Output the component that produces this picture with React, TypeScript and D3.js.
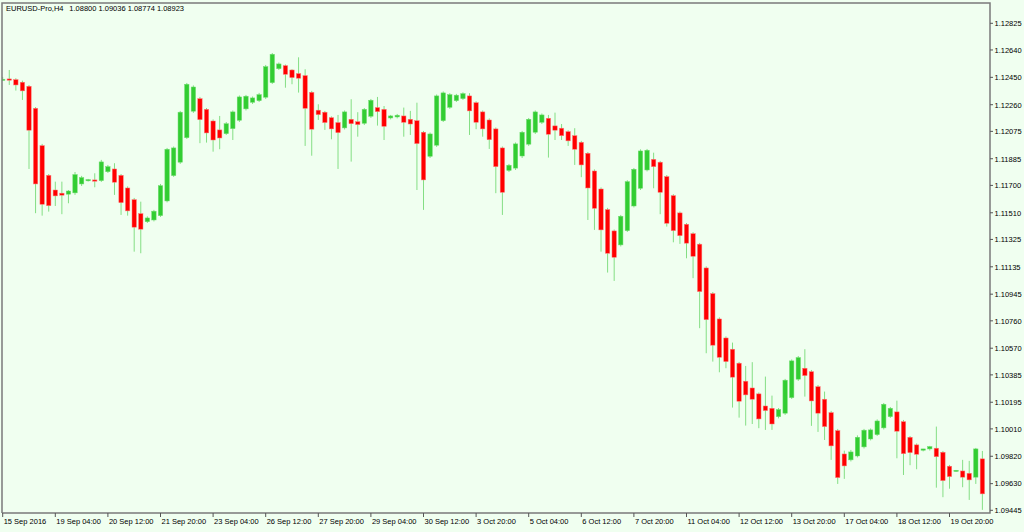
import React from "react";
import * as d3 from "d3";

const titleSymbol = "EURUSD-Pro,H4";
const titleQuote = "1.08800 1.09036 1.08774 1.08923";

const opens = [1.12437, 1.12439, 1.12434, 1.12416, 1.12388, 1.12235, 1.11976, 1.11770, 1.11668, 1.11646,
  1.11639, 1.11648, 1.11710, 1.11736, 1.11738, 1.11733, 1.11795, 1.11814, 1.11770, 1.11682,
  1.11601, 1.11504, 1.11448, 1.11460, 1.11490, 1.11592, 1.11768, 1.11861, 1.12031, 1.12215,
  1.12302, 1.12228, 1.12147, 1.12085, 1.12059, 1.12094, 1.12152, 1.12231, 1.12277, 1.12288,
  1.12312, 1.12413, 1.12510, 1.12531, 1.12501, 1.12476, 1.12462, 1.12346, 1.12222, 1.12208,
  1.12170, 1.12136, 1.12099, 1.12159, 1.12142, 1.12131, 1.12180, 1.12240, 1.12228, 1.12168,
  1.12175, 1.12182, 1.12159, 1.12149, 1.12069, 1.11902, 1.11979, 1.12149, 1.12242, 1.12288,
  1.12302, 1.12321, 1.12274, 1.12210, 1.12154, 1.12092, 1.11960, 1.11804, 1.11820, 1.11904,
  1.11986, 1.12069, 1.12138, 1.12166, 1.12113, 1.12097, 1.12073, 1.12045, 1.11999, 1.11923,
  1.11800, 1.11675, 1.11532, 1.11384, 1.11287, 1.11386, 1.11557, 1.11680, 1.11807, 1.11881,
  1.11861, 1.11761, 1.11629, 1.11509, 1.11430, 1.11365, 1.11292, 1.11127, 1.10949, 1.10773,
  1.10641, 1.10563, 1.10466, 1.10341, 1.10294, 1.10253, 1.10169, 1.10153, 1.10095, 1.10119,
  1.10227, 1.10355, 1.10431, 1.10407, 1.10303, 1.10216, 1.10123, 1.09998, 1.09836, 1.09795,
  1.09822, 1.09885, 1.09940, 1.09970, 1.10017, 1.10095, 1.10128, 1.10060, 1.09952, 1.09899,
  1.09862, 1.09871, 1.09876, 1.09848, 1.09751, 1.09718, 1.09718, 1.09702, 1.09675, 1.09802];

const highs = [1.12453, 1.12501, 1.12444, 1.12427, 1.12397, 1.12244, 1.11988, 1.11779, 1.11726, 1.11726,
  1.11668, 1.11793, 1.11766, 1.11745, 1.11784, 1.11877, 1.11842, 1.11854, 1.11779, 1.11693,
  1.11613, 1.11587, 1.11485, 1.11530, 1.11710, 1.11960, 1.11970, 1.12217, 1.12411, 1.12394,
  1.12314, 1.12237, 1.12158, 1.12182, 1.12140, 1.12220, 1.12324, 1.12328, 1.12317, 1.12342,
  1.12536, 1.12619, 1.12553, 1.12539, 1.12506, 1.12589, 1.12506, 1.12356, 1.12263, 1.12217,
  1.12179, 1.12189, 1.12220, 1.12298, 1.12208, 1.12237, 1.12300, 1.12314, 1.12251, 1.12189,
  1.12196, 1.12240, 1.12217, 1.12274, 1.12078, 1.12067, 1.12331, 1.12352, 1.12340, 1.12335,
  1.12346, 1.12340, 1.12284, 1.12220, 1.12165, 1.12102, 1.11970, 1.11849, 1.11998, 1.12078,
  1.12168, 1.12220, 1.12199, 1.12189, 1.12205, 1.12126, 1.12083, 1.12097, 1.12009, 1.11932,
  1.11811, 1.11686, 1.11544, 1.11394, 1.11495, 1.11736, 1.11821, 1.11950, 1.11953, 1.11927,
  1.11870, 1.11772, 1.11639, 1.11519, 1.11439, 1.11375, 1.11301, 1.11138, 1.10960, 1.10784,
  1.10652, 1.10609, 1.10475, 1.10447, 1.10473, 1.10263, 1.10373, 1.10241, 1.10155, 1.10357,
  1.10492, 1.10516, 1.10563, 1.10419, 1.10315, 1.10269, 1.10135, 1.10010, 1.09859, 1.09864,
  1.09965, 1.10010, 1.10013, 1.10076, 1.10190, 1.10162, 1.10206, 1.10072, 1.09961, 1.09909,
  1.09871, 1.09892, 1.10026, 1.09857, 1.09760, 1.09725, 1.09795, 1.09788, 1.09878, 1.09857];

const lows = [1.12425, 1.12397, 1.12358, 1.12293, 1.11814, 1.11507, 1.11490, 1.11518, 1.11557, 1.11500,
  1.11576, 1.11634, 1.11696, 1.11727, 1.11687, 1.11724, 1.11786, 1.11634, 1.11495, 1.11490,
  1.11240, 1.11229, 1.11439, 1.11450, 1.11481, 1.11582, 1.11759, 1.11849, 1.12022, 1.12203,
  1.11993, 1.11997, 1.11934, 1.11951, 1.12050, 1.12015, 1.12140, 1.12220, 1.12265, 1.12279,
  1.12300, 1.12404, 1.12501, 1.12378, 1.12402, 1.12344, 1.11974, 1.11906, 1.12154, 1.12085,
  1.12020, 1.11814, 1.12088, 1.11865, 1.12038, 1.12119, 1.12168, 1.12115, 1.12015, 1.12158,
  1.12165, 1.12038, 1.12050, 1.11668, 1.11530, 1.11890, 1.11967, 1.12140, 1.12231, 1.12279,
  1.12293, 1.12050, 1.12090, 1.12038, 1.11953, 1.11646, 1.11495, 1.11793, 1.11807, 1.11890,
  1.11974, 1.12057, 1.12126, 1.11893, 1.12015, 1.12015, 1.11974, 1.11842, 1.11757, 1.11460,
  1.11391, 1.11240, 1.11095, 1.11037, 1.11276, 1.11377, 1.11547, 1.11668, 1.11797, 1.11680,
  1.11500, 1.11414, 1.11305, 1.11294, 1.11194, 1.11056, 1.10709, 1.10535, 1.10477, 1.10403,
  1.10431, 1.10158, 1.10088, 1.10033, 1.10044, 1.10015, 1.10003, 1.10003, 1.10083, 1.10107,
  1.10218, 1.10343, 1.10234, 1.10031, 1.09989, 1.09933, 1.09795, 1.09628, 1.09663, 1.09784,
  1.09812, 1.09874, 1.09930, 1.09961, 1.10006, 1.10086, 1.09806, 1.09690, 1.09758, 1.09730,
  1.09854, 1.09860, 1.09602, 1.09536, 1.09595, 1.09711, 1.09605, 1.09517, 1.09628, 1.09448];

const closes = [1.12437, 1.12430, 1.12397, 1.12356, 1.12083, 1.11710, 1.11569, 1.11559, 1.11627, 1.11632,
  1.11661, 1.11775, 1.11754, 1.11740, 1.11729, 1.11863, 1.11830, 1.11722, 1.11580, 1.11523,
  1.11410, 1.11396, 1.11474, 1.11521, 1.11698, 1.11951, 1.11960, 1.12208, 1.12402, 1.12383,
  1.12156, 1.12064, 1.12015, 1.12029, 1.12128, 1.12210, 1.12314, 1.12319, 1.12307, 1.12330,
  1.12524, 1.12610, 1.12543, 1.12471, 1.12448, 1.12444, 1.12235, 1.12090, 1.12191, 1.12136,
  1.12092, 1.12066, 1.12210, 1.12128, 1.12122, 1.12228, 1.12291, 1.12212, 1.12110, 1.12182,
  1.12187, 1.12138, 1.12126, 1.11990, 1.11738, 1.12057, 1.12321, 1.12342, 1.12330, 1.12326,
  1.12337, 1.12217, 1.12138, 1.12092, 1.12017, 1.11830, 1.11652, 1.11840, 1.11988, 1.12069,
  1.12159, 1.12210, 1.12189, 1.12055, 1.12083, 1.12045, 1.12009, 1.11951, 1.11842, 1.11682,
  1.11541, 1.11391, 1.11229, 1.11201, 1.11486, 1.11726, 1.11812, 1.11939, 1.11944, 1.11830,
  1.11652, 1.11437, 1.11386, 1.11351, 1.11299, 1.11208, 1.10963, 1.10768, 1.10591, 1.10507,
  1.10477, 1.10369, 1.10202, 1.10246, 1.10216, 1.10079, 1.10137, 1.10044, 1.10144, 1.10348,
  1.10482, 1.10505, 1.10380, 1.10204, 1.10119, 1.10026, 1.09892, 1.09672, 1.09753, 1.09850,
  1.09952, 1.10001, 1.10003, 1.10065, 1.10181, 1.10153, 1.09994, 1.09838, 1.09845, 1.09834,
  1.09871, 1.09887, 1.09817, 1.09651, 1.09679, 1.09723, 1.09675, 1.09656, 1.09871, 1.09559];

const timeLabels = ["15 Sep 2016", "19 Sep 04:00", "20 Sep 12:00", "21 Sep 20:00", "23 Sep 04:00",
  "26 Sep 12:00", "27 Sep 20:00", "29 Sep 04:00", "30 Sep 12:00", "3 Oct 20:00", "5 Oct 04:00",
  "6 Oct 12:00", "7 Oct 20:00", "11 Oct 04:00", "12 Oct 12:00", "13 Oct 20:00", "17 Oct 04:00",
  "18 Oct 12:00", "19 Oct 20:00"];
const barsPerLabel = 8;

const priceTicks = [1.12825, 1.12640, 1.12450, 1.12260, 1.12075, 1.11885, 1.11700, 1.11510, 1.11325,
  1.11135, 1.10945, 1.10760, 1.10570, 1.10385, 1.10195, 1.10010, 1.09820, 1.09630, 1.09445];

const W = 1024, H = 532;
const frame = { left: 2, top: 3, right: 990, bottom: 513 };
const BG = "#F0FFF0";
const UP = "#32CD32";
const DOWN = "#FF0000";
const WICK = "#84de84";
const FONT = "'Liberation Sans', Arial, sans-serif";

export default function App() {
  const n = opens.length;
  const x = d3.scaleLinear().domain([0, n - 1]).range([2.7, 2.7 + 6.575 * (n - 1)]);
  const y = d3.scaleLinear().domain([1.09445, 1.12825]).range([510.3, 23.3]);
  const bodyW = 4.4;

  const candles = d3.range(n).map((i) => {
    const o = opens[i], c = closes[i], h = highs[i], l = lows[i];
    const up = c >= o;
    const cx = x(i);
    const top = y(Math.max(o, c));
    const bot = y(Math.min(o, c));
    const bh = Math.max(bot - top, 1.2);
    return (
      <g key={i}>
        <line x1={cx} x2={cx} y1={y(h)} y2={y(l)} stroke={WICK} strokeWidth={1} />
        <rect x={cx - bodyW / 2} y={top} width={bodyW} height={bh} fill={up ? UP : DOWN}
          stroke={up ? "#6fdc6f" : "#ff7a7a"} strokeWidth={0.5} />
      </g>
    );
  });

  return (
    <div style={{ position: "absolute", left: 0, top: 0, width: W, height: H }}>
      <svg width={W} height={H} style={{ display: "block" }} fontFamily={FONT}>
        <defs>
          <clipPath id="plot">
            <rect x={frame.left} y={frame.top} width={frame.right - frame.left} height={frame.bottom - frame.top} />
          </clipPath>
        </defs>
        <rect x={0} y={0} width={W} height={H} fill={BG} />
        <g clipPath="url(#plot)">{candles}</g>
        <path d={`M${frame.left},${frame.bottom} V${frame.top} H${frame.right} V${frame.bottom} H${frame.left}`}
          fill="none" stroke="#7a7a7a" strokeWidth={1.5} />
        {priceTicks.map((p) => (
          <g key={p}>
            <line x1={frame.right} x2={frame.right + 3} y1={y(p)} y2={y(p)} stroke="#555" strokeWidth={1} />
            <text x={frame.right + 4.5} y={y(p) + 2.8} fontSize={7.5} fill="#000">{p.toFixed(5)}</text>
          </g>
        ))}
        {timeLabels.map((t, k) => {
          const tx = x(k * barsPerLabel);
          return (
            <g key={t}>
              <line x1={tx} x2={tx} y1={frame.bottom} y2={frame.bottom + 4} stroke="#555" strokeWidth={1} />
              <text x={tx + 1} y={frame.bottom + 11} fontSize={7.5} fill="#000">{t}</text>
            </g>
          );
        })}
        <text x={6} y={10.5} fontSize={7.5} fill="#000">{titleSymbol}</text>
        <text x={69.3} y={10.5} fontSize={7.5} fill="#000">{titleQuote}</text>
      </svg>
    </div>
  );
}
